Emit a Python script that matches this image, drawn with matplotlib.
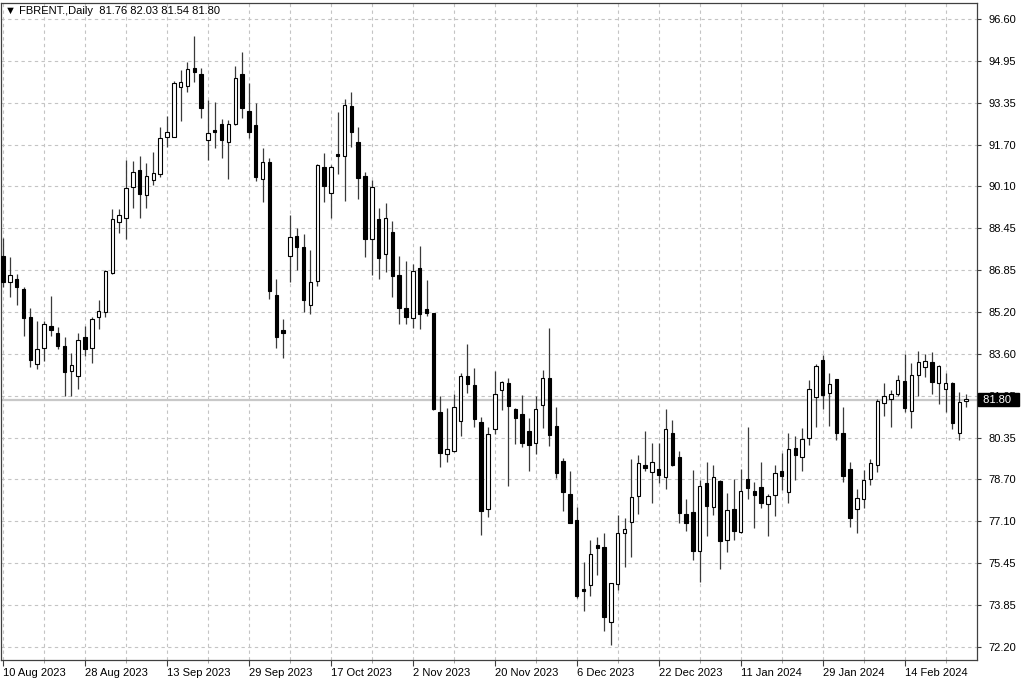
import matplotlib
matplotlib.use("Agg")
import matplotlib.pyplot as plt
import numpy as np

# FBRENT daily bars (oldest first)
opens = [87.39, 86.37, 86.48, 86.12, 85.03, 83.18, 83.83, 84.67, 84.39, 83.90,
         82.92, 82.73, 84.26, 83.80, 85.02, 85.23, 86.74, 88.72, 88.88, 90.08,
         90.72, 89.76, 90.34, 90.59, 92.00, 92.03, 93.95, 94.01, 94.69, 94.45,
         91.89, 92.29, 92.52, 91.83, 92.51, 94.45, 93.03, 92.48, 90.37, 91.03,
         85.87, 84.53, 87.37, 88.18, 87.75, 85.49, 86.41, 90.84, 89.85, 91.34,
         91.29, 93.22, 91.80, 90.50, 88.04, 88.84, 87.46, 88.34, 86.65, 85.38,
         84.97, 86.91, 85.32, 85.17, 81.32, 79.69, 79.82, 80.99, 82.74, 82.38,
         80.92, 77.57, 80.66, 82.17, 82.47, 81.45, 81.24, 80.57, 80.14, 81.60,
         82.64, 80.79, 79.43, 78.13, 77.13, 74.44, 74.60, 76.14, 76.10, 73.18,
         74.63, 76.62, 77.04, 78.08, 79.25, 79.01, 79.12, 78.82, 80.50, 79.56,
         77.37, 77.43, 75.94, 78.56, 77.65, 78.66, 76.36, 77.56, 76.68, 78.71,
         78.24, 78.43, 77.76, 78.11, 79.05, 78.20, 79.92, 79.57, 80.31, 81.90,
         83.33, 82.06, 82.60, 80.50, 79.12, 77.55, 77.94, 78.71, 79.27, 81.67,
         81.82, 82.03, 82.55, 81.38, 82.77, 83.06, 83.26, 82.47, 82.21, 82.44,
         80.53, 81.76]
highs = [88.08, 87.34, 86.69, 86.20, 85.36, 84.88, 84.88, 85.84, 84.62, 84.23,
         83.61, 84.39, 84.67, 85.01, 85.67, 86.85, 89.22, 89.22, 91.12, 91.09,
         91.27, 91.00, 91.42, 92.39, 92.84, 94.20, 94.62, 94.94, 95.94, 94.71,
         93.44, 93.37, 92.71, 92.68, 94.79, 95.33, 94.10, 93.32, 91.57, 91.19,
         86.48, 84.93, 88.98, 88.47, 88.23, 87.63, 90.97, 91.38, 90.93, 93.00,
         93.48, 93.78, 92.42, 90.67, 90.35, 89.24, 89.44, 88.76, 87.37, 87.21,
         87.08, 87.78, 86.46, 85.17, 81.95, 81.47, 82.03, 82.83, 83.96, 83.03,
         81.12, 80.76, 82.92, 82.55, 82.64, 81.47, 81.99, 81.11, 81.93, 82.96,
         84.58, 81.51, 79.52, 79.05, 77.63, 75.48, 76.36, 76.46, 76.64, 74.67,
         77.33, 77.20, 79.49, 79.66, 80.57, 80.11, 80.11, 81.43, 81.02, 79.83,
         77.96, 79.08, 78.69, 79.40, 79.27, 78.69, 78.17, 78.71, 79.10, 80.73,
         78.62, 79.38, 78.15, 79.27, 79.72, 80.50, 80.40, 80.70, 82.57, 83.20,
         83.55, 82.83, 82.60, 81.54, 79.40, 78.33, 79.08, 79.49, 81.82, 82.44,
         82.19, 82.77, 83.58, 83.22, 83.68, 83.58, 83.64, 83.16, 82.86, 82.51,
         82.12, 82.03]
lows = [86.20, 85.81, 85.49, 84.28, 83.09, 83.00, 83.29, 84.28, 83.78, 81.93,
        81.93, 82.21, 83.51, 83.25, 84.55, 85.03, 86.70, 88.28, 88.04, 89.25,
        88.86, 89.27, 90.15, 90.47, 91.62, 92.00, 92.65, 93.78, 94.16, 92.74,
        91.12, 91.58, 91.19, 90.38, 92.48, 92.74, 91.96, 90.32, 89.50, 85.71,
        83.80, 83.42, 86.39, 86.85, 85.20, 85.14, 86.23, 89.48, 88.86, 90.58,
        89.54, 91.64, 89.61, 87.34, 86.65, 86.50, 86.78, 85.79, 84.75, 84.75,
        84.58, 84.54, 85.06, 81.41, 79.18, 79.40, 79.79, 80.40, 82.06, 80.76,
        76.55, 77.26, 80.47, 81.41, 78.45, 80.07, 79.98, 79.05, 79.68, 80.70,
        80.01, 78.75, 77.48, 77.00, 74.09, 73.60, 74.16, 75.00, 72.83, 72.28,
        74.41, 75.30, 75.71, 77.37, 79.04, 77.78, 78.58, 78.33, 79.21, 77.03,
        76.72, 75.58, 74.74, 76.49, 77.33, 75.22, 75.90, 76.36, 76.64, 77.94,
        76.81, 77.59, 76.49, 77.30, 78.30, 77.78, 78.69, 79.05, 80.05, 80.76,
        81.43, 80.79, 80.24, 78.59, 76.85, 76.62, 77.61, 78.49, 79.01, 81.18,
        80.73, 81.93, 81.34, 80.70, 81.95, 82.70, 82.03, 81.64, 81.34, 80.66,
        80.22, 81.54]
closes = [86.36, 86.65, 86.17, 84.97, 83.33, 83.78, 84.74, 84.52, 83.90, 82.88,
          83.14, 84.13, 83.79, 84.96, 85.26, 86.82, 88.82, 88.97, 90.02, 90.64,
          89.80, 90.49, 90.60, 91.99, 92.20, 94.10, 94.14, 94.65, 94.54, 93.13,
          92.16, 92.22, 91.90, 92.52, 94.30, 93.13, 92.22, 90.45, 91.03, 86.04,
          84.26, 84.41, 88.14, 87.73, 85.68, 86.36, 90.91, 90.09, 90.86, 91.29,
          93.26, 92.22, 90.41, 88.04, 90.06, 87.30, 88.86, 86.61, 85.38, 85.01,
          86.82, 85.14, 85.19, 81.43, 79.75, 79.88, 81.54, 82.74, 82.42, 81.05,
          77.48, 80.47, 82.02, 82.50, 81.56, 81.08, 80.11, 80.05, 81.43, 82.64,
          80.44, 78.95, 78.20, 77.00, 74.18, 74.38, 75.80, 76.03, 73.38, 74.67,
          76.64, 76.77, 78.01, 79.34, 79.14, 79.39, 78.87, 80.67, 79.27, 77.42,
          77.03, 75.94, 78.46, 77.68, 78.82, 76.33, 77.50, 76.72, 78.26, 78.36,
          78.11, 77.78, 78.07, 78.95, 78.84, 79.89, 79.66, 80.28, 82.21, 83.12,
          81.97, 82.42, 80.50, 78.84, 77.20, 77.98, 78.69, 79.36, 81.76, 81.95,
          82.02, 82.57, 81.47, 82.77, 83.26, 83.31, 82.51, 83.13, 82.47, 80.89,
          81.71, 81.80]

date_labels = ["10 Aug 2023", "28 Aug 2023", "13 Sep 2023", "29 Sep 2023",
               "17 Oct 2023", "2 Nov 2023", "20 Nov 2023", "6 Dec 2023",
               "22 Dec 2023", "11 Jan 2024", "29 Jan 2024", "14 Feb 2024"]
price_labels = ["72.20", "73.85", "75.45", "77.10", "78.70", "80.35", "81.95",
                "83.60", "85.20", "86.85", "88.45", "90.10", "91.70", "93.35",
                "94.95", "96.60"]
last_price = 81.80
header = "\u25bc FBRENT.,Daily  81.76 82.03 81.54 81.80"

plt.rcParams['font.family'] = ['Liberation Sans', 'DejaVu Sans']
plt.rcParams['font.size'] = 8

o = np.array(opens)
h = np.array(highs)
l = np.array(lows)
c = np.array(closes)
x = np.arange(len(o))
up = c >= o

fig = plt.figure(figsize=(10.24, 6.83), dpi=100)
ax = fig.add_axes([1 / 1024, 23 / 683, 976 / 1024, 657 / 683])

# wicks then bodies
ax.vlines(x, l, h, color="#3a3a3a", linewidth=0.9, zorder=2)
body_lo = np.minimum(o, c)
body_h = np.maximum(np.abs(c - o), 0.06)
ax.bar(x[up], body_h[up], bottom=body_lo[up], width=0.5,
       facecolor="white", edgecolor="black", linewidth=0.8, zorder=3)
ax.bar(x[~up], body_h[~up], bottom=body_lo[~up], width=0.5,
       facecolor="black", edgecolor="black", linewidth=0.8, zorder=3)

# bid line
ax.axhline(last_price, color="#c8c8c8", linewidth=1.6, zorder=1)

ax.set_xlim(-0.3, 142.6)
ax.set_ylim(71.69, 97.22)

yt = np.linspace(72.20, 96.60, len(price_labels))
ax.yaxis.tick_right()
ax.set_yticks(yt)
ax.set_yticklabels(price_labels)
ax.tick_params(axis="y", length=3, width=0.8, color="#404040", pad=5)

ax.set_xticks(np.arange(len(date_labels)) * 12)
ax.set_xticklabels(date_labels)
for lab in ax.get_xticklabels():
    lab.set_horizontalalignment("left")
ax.set_xticks(np.arange(6, 142, 12), minor=True)
ax.tick_params(axis="x", which="major", length=4, width=0.8, color="#404040", pad=2)
ax.tick_params(axis="x", which="minor", length=2, width=0.6, color="#909090")

ax.grid(True, which="both", axis="x", color="#c4c4c4", linestyle=(0, (3, 3)), linewidth=0.8)
ax.grid(True, which="major", axis="y", color="#c4c4c4", linestyle=(0, (3, 3)), linewidth=0.8)
ax.set_axisbelow(True)

for s in ax.spines.values():
    s.set_color("#404040")
    s.set_linewidth(0.9)

# current price marker on the price scale
ax.text(1.003, last_price, " " + f"{last_price:.2f}" + "  ", transform=ax.get_yaxis_transform(),
        ha="left", va="center", color="white", fontsize=8, clip_on=False, zorder=10,
        bbox=dict(boxstyle="square,pad=0.15", facecolor="black", edgecolor="black"))

ax.text(0.004, 0.988, header, transform=ax.transAxes, ha="left", va="center",
        fontsize=8, color="black")

fig.savefig("out.png", dpi=100)
plt.close(fig)
